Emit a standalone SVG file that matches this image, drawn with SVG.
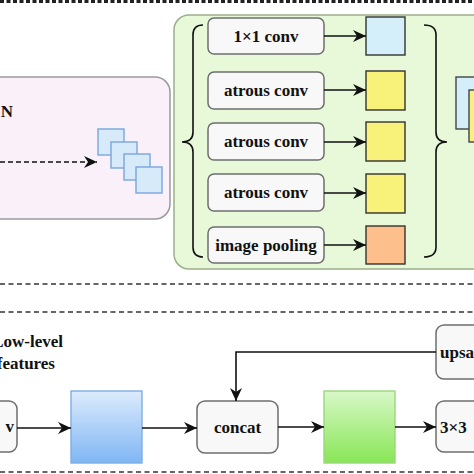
<svg xmlns="http://www.w3.org/2000/svg" width="474" height="474" viewBox="0 0 474 474">
<defs>
<marker id="ah" markerUnits="userSpaceOnUse" markerWidth="14" markerHeight="12" refX="13" refY="6" orient="auto">
<path d="M0,0 L13,6 L0,12 L4,6 z" fill="#111"/>
</marker>
<linearGradient id="gBlue" x1="0" y1="0" x2="0" y2="1">
<stop offset="0" stop-color="#dcebfc"/><stop offset="1" stop-color="#80b6f4"/>
</linearGradient>
<linearGradient id="gGreen" x1="0" y1="0" x2="0" y2="1">
<stop offset="0" stop-color="#d8f8c8"/><stop offset="1" stop-color="#88e656"/>
</linearGradient>
</defs>
<style>
text{font-family:"Liberation Serif","Times New Roman",serif;font-weight:bold;font-size:17px;fill:#111}
.node{fill:#f8f8f8;stroke:#6e6e6e;stroke-width:1.5}
.conn{stroke:#111;stroke-width:1.6;fill:none}
.sq{stroke:#333;stroke-width:1.4}
.dash{stroke:#333;stroke-width:1.5;stroke-dasharray:5 3.5}
.small{fill:#d6eafa;stroke:#78a6dc;stroke-width:1.4}
</style>
<rect width="474" height="474" fill="#fff"/>
<line x1="0" y1="1.5" x2="474" y2="1.5" stroke="#222" stroke-width="3" stroke-dasharray="4 2.5"/>

<g id="pink-panel">
<rect x="-20" y="77" width="190" height="142" rx="15" fill="#f9f0fa" stroke="#9a9a9a" stroke-width="1.5"/>
<text x="13" y="117" text-anchor="end">N</text>
<rect class="small" x="98" y="129" width="26" height="26"/>
<rect class="small" x="111" y="142" width="26" height="26"/>
<rect class="small" x="124" y="154" width="26" height="26"/>
<rect class="small" x="136" y="167" width="26" height="26"/>
</g>

<g id="aspp-panel">
<rect x="174" y="15" width="330" height="254" rx="15" fill="#e7f9d9" stroke="#9caf8c" stroke-width="1.5"/>
<path class="conn" d="M203,25 Q193,25 193,35 L193,132 Q193,142 182,142 Q193,142 193,152 L193,247 Q193,257 203,257"/>
<path class="conn" d="M424,25 Q436,25 436,35 L436,132 Q436,142 447,142 Q436,142 436,152 L436,247 Q436,257 424,257"/>
</g>

<g id="n-1x1"><rect class="node" x="208" y="18" width="116" height="36" rx="6"/><text x="266" y="42" text-anchor="middle">1×1 conv</text></g>
<g id="n-atrous1"><rect class="node" x="208" y="72" width="116" height="37" rx="6"/><text x="266" y="96" text-anchor="middle">atrous conv</text></g>
<g id="n-atrous2"><rect class="node" x="208" y="123" width="116" height="37" rx="6"/><text x="266" y="147" text-anchor="middle">atrous conv</text></g>
<g id="n-atrous3"><rect class="node" x="208" y="174" width="116" height="37" rx="6"/><text x="266" y="198" text-anchor="middle">atrous conv</text></g>
<g id="n-pool"><rect class="node" x="208" y="227" width="116" height="36" rx="6"/><text x="266" y="251" text-anchor="middle">image pooling</text></g>

<g id="sq-1"><rect class="sq" x="366" y="17" width="39" height="38" fill="#d4eefa"/></g>
<g id="sq-2"><rect class="sq" x="366" y="71" width="39" height="39" fill="#f8f27a"/></g>
<g id="sq-3"><rect class="sq" x="366" y="122" width="39" height="39" fill="#f8f27a"/></g>
<g id="sq-4"><rect class="sq" x="366" y="174" width="39" height="39" fill="#f8f27a"/></g>
<g id="sq-5"><rect class="sq" x="366" y="226" width="39" height="38" fill="#fdbf8c"/></g>

<g id="concat-stack">
<rect x="456" y="77" width="52" height="52" fill="#d4eefa" stroke="#444" stroke-width="1.4"/>
<rect x="469" y="90" width="52" height="52" fill="#f8f27a" stroke="#444" stroke-width="1.4"/>
</g>

<line class="dash" x1="0" y1="284" x2="474" y2="284"/>
<line class="dash" x1="0" y1="312" x2="474" y2="312"/>
<line class="dash" x1="0" y1="472" x2="474" y2="472"/>

<text x="63" y="347" text-anchor="end">Low-level</text>
<text x="55" y="369" text-anchor="end">features</text>

<g id="n-conv-left"><rect class="node" x="-60" y="401" width="77" height="51" rx="8"/><text x="14" y="432" text-anchor="end">v</text></g>
<g id="n-blue"><rect x="71" y="391" width="71" height="72" fill="url(#gBlue)" stroke="#7eaee6" stroke-width="1.4"/></g>
<g id="n-concat"><rect class="node" x="197" y="401" width="81" height="52" rx="8"/><text x="237.5" y="433" text-anchor="middle">concat</text></g>
<g id="n-green"><rect x="324" y="391" width="71" height="72" fill="url(#gGreen)" stroke="#9ad67a" stroke-width="1.4"/></g>
<g id="n-upsa"><rect class="node" x="436" y="325" width="80" height="54" rx="8"/><text x="440" y="358">upsa</text></g>
<g id="n-3x3"><rect class="node" x="436" y="401" width="80" height="51" rx="8"/><text x="440" y="433">3×3</text></g>

<g id="connectors">
<line class="conn" x1="0" y1="162" x2="97" y2="162" stroke-dasharray="5 3" marker-end="url(#ah)"/>
<line class="conn" x1="324" y1="36" x2="366" y2="36" marker-end="url(#ah)"/>
<line class="conn" x1="324" y1="90" x2="366" y2="90" marker-end="url(#ah)"/>
<line class="conn" x1="324" y1="142" x2="366" y2="142" marker-end="url(#ah)"/>
<line class="conn" x1="324" y1="193" x2="366" y2="193" marker-end="url(#ah)"/>
<line class="conn" x1="324" y1="245" x2="366" y2="245" marker-end="url(#ah)"/>
<line class="conn" x1="17" y1="428" x2="71" y2="428" marker-end="url(#ah)"/>
<line class="conn" x1="142" y1="428" x2="197" y2="428" marker-end="url(#ah)"/>
<line class="conn" x1="278" y1="427" x2="324" y2="427" marker-end="url(#ah)"/>
<line class="conn" x1="395" y1="427" x2="436" y2="427" marker-end="url(#ah)"/>
<path class="conn" d="M436,352 L236,352 L236,401" marker-end="url(#ah)"/>
</g>
</svg>
